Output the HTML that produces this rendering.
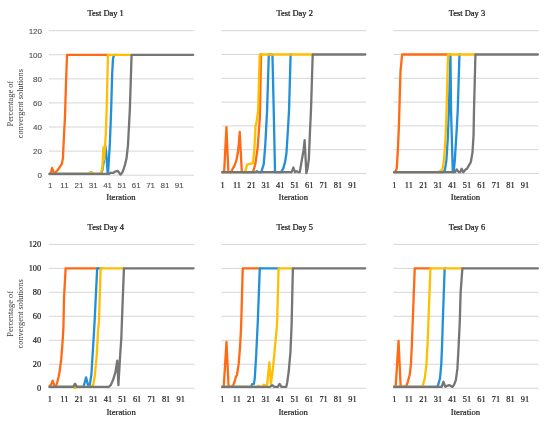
<!DOCTYPE html>
<html><head><meta charset="utf-8"><title>Percentage of convergent solutions</title>
<style>
html,body{margin:0;padding:0;background:#fff;overflow:hidden}
svg{display:block}
.tt{font-family:"Liberation Serif",serif;font-size:8.45px;fill:#111;stroke:#111;stroke-width:.22px}
.tks{font-family:"Liberation Sans",sans-serif;font-size:8px;fill:#4d4d4d;stroke:#4d4d4d;stroke-width:.1px}
.tkr{font-family:"Liberation Serif",serif;font-size:8.4px;fill:#1c1c1c;stroke:#1c1c1c;stroke-width:.2px}
.ax{font-family:"Liberation Serif",serif;font-size:8.7px;fill:#1c1c1c;stroke:#1c1c1c;stroke-width:.2px}
.ay{font-family:"Liberation Serif",serif;font-size:8.35px;fill:#333}
</style></head><body>
<svg width="550" height="422" viewBox="0 0 550 422">
<rect width="550" height="422" fill="#fff"/>
<g class="panel">
<line x1="48.9" x2="194.0" y1="175.20" y2="175.20" stroke="#D6D6D6" stroke-width="1"/>
<text x="42" y="178.10" text-anchor="end" class="tks">0</text>
<line x1="48.9" x2="194.0" y1="151.12" y2="151.12" stroke="#D6D6D6" stroke-width="1"/>
<text x="42" y="154.02" text-anchor="end" class="tks">20</text>
<line x1="48.9" x2="194.0" y1="127.03" y2="127.03" stroke="#D6D6D6" stroke-width="1"/>
<text x="42" y="129.93" text-anchor="end" class="tks">40</text>
<line x1="48.9" x2="194.0" y1="102.95" y2="102.95" stroke="#D6D6D6" stroke-width="1"/>
<text x="42" y="105.85" text-anchor="end" class="tks">60</text>
<line x1="48.9" x2="194.0" y1="78.87" y2="78.87" stroke="#D6D6D6" stroke-width="1"/>
<text x="42" y="81.77" text-anchor="end" class="tks">80</text>
<line x1="48.9" x2="194.0" y1="54.78" y2="54.78" stroke="#D6D6D6" stroke-width="1"/>
<text x="42" y="57.68" text-anchor="end" class="tks">100</text>
<line x1="48.9" x2="194.0" y1="30.70" y2="30.70" stroke="#D6D6D6" stroke-width="1"/>
<text x="42" y="33.60" text-anchor="end" class="tks">120</text>
<text x="105.6" y="16.3" text-anchor="middle" class="tt">Test Day 1</text>
<text x="50.2" y="188.3" text-anchor="middle" class="tks">1</text>
<text x="64.5" y="188.3" text-anchor="middle" class="tks">11</text>
<text x="78.9" y="188.3" text-anchor="middle" class="tks">21</text>
<text x="93.2" y="188.3" text-anchor="middle" class="tks">31</text>
<text x="107.6" y="188.3" text-anchor="middle" class="tks">41</text>
<text x="121.9" y="188.3" text-anchor="middle" class="tks">51</text>
<text x="136.2" y="188.3" text-anchor="middle" class="tks">61</text>
<text x="150.6" y="188.3" text-anchor="middle" class="tks">71</text>
<text x="164.9" y="188.3" text-anchor="middle" class="tks">81</text>
<text x="179.3" y="188.3" text-anchor="middle" class="tks">91</text>
<text x="121.0" y="200.2" text-anchor="middle" class="ax">Iteration</text>
<text transform="translate(12.6,103.7) rotate(-90)" text-anchor="middle" class="ay">Percentage of</text>
<text transform="translate(22.8,103.7) rotate(-90)" text-anchor="middle" class="ay">convergent solutions</text>
<polyline points="49.63,173.88 51.08,172.19 52.09,167.97 53.40,171.59 54.56,173.15 55.72,172.19 57.46,170.26 59.71,167.25 61.92,163.64 62.97,157.74 63.41,147.50 64.14,132.69 65.01,116.20 66.02,82.48 67.04,54.78 108.83,54.78" fill="none" stroke="#FF6A14" stroke-width="2.3" stroke-linejoin="round" stroke-linecap="round"/>
<polyline points="49.63,173.88 89.53,173.88 90.98,172.19 92.43,173.88 100.85,173.88 102.44,169.78 104.04,159.55 105.13,145.10 106.21,152.32 107.67,173.39 108.03,173.39 109.84,143.89 111.15,110.17 112.16,74.05 113.03,58.40 114.19,54.78 115.07,54.78" fill="none" stroke="#2190D8" stroke-width="2.3" stroke-linejoin="round" stroke-linecap="round"/>
<polyline points="49.63,173.88 89.53,173.88 91.70,172.19 93.88,173.88 99.83,173.88 101.14,172.19 102.44,167.97 103.31,147.50 104.04,159.55 105.05,146.30 105.78,134.26 106.65,108.97 107.96,54.78 132.48,54.78" fill="none" stroke="#FFBF00" stroke-width="2.3" stroke-linejoin="round" stroke-linecap="round"/>
<polyline points="49.63,173.88 109.12,173.88 110.57,172.79 113.47,172.79 114.92,171.59 117.82,170.99 120.43,174.60 122.18,172.79 123.63,169.18 125.08,164.36 126.53,158.34 127.98,145.10 129.87,108.97 131.61,54.78 193.27,54.78" fill="none" stroke="#757575" stroke-width="2.3" stroke-linejoin="round" stroke-linecap="round"/>
</g>
<g class="panel">
<line x1="221.6" x2="366.0" y1="173.50" y2="173.50" stroke="#D6D6D6" stroke-width="1"/>
<line x1="221.6" x2="366.0" y1="149.70" y2="149.70" stroke="#D6D6D6" stroke-width="1"/>
<line x1="221.6" x2="366.0" y1="125.90" y2="125.90" stroke="#D6D6D6" stroke-width="1"/>
<line x1="221.6" x2="366.0" y1="102.10" y2="102.10" stroke="#D6D6D6" stroke-width="1"/>
<line x1="221.6" x2="366.0" y1="78.30" y2="78.30" stroke="#D6D6D6" stroke-width="1"/>
<line x1="221.6" x2="366.0" y1="54.50" y2="54.50" stroke="#D6D6D6" stroke-width="1"/>
<line x1="221.6" x2="366.0" y1="30.70" y2="30.70" stroke="#D6D6D6" stroke-width="1"/>
<text x="294.7" y="16.3" text-anchor="middle" class="tt">Test Day 2</text>
<text x="222.5" y="187.6" text-anchor="middle" class="tkr">1</text>
<text x="237.0" y="187.6" text-anchor="middle" class="tkr">11</text>
<text x="251.4" y="187.6" text-anchor="middle" class="tkr">21</text>
<text x="265.8" y="187.6" text-anchor="middle" class="tkr">31</text>
<text x="280.3" y="187.6" text-anchor="middle" class="tkr">41</text>
<text x="294.7" y="187.6" text-anchor="middle" class="tkr">51</text>
<text x="309.2" y="187.6" text-anchor="middle" class="tkr">61</text>
<text x="323.6" y="187.6" text-anchor="middle" class="tkr">71</text>
<text x="338.0" y="187.6" text-anchor="middle" class="tkr">81</text>
<text x="352.5" y="187.6" text-anchor="middle" class="tkr">91</text>
<text x="293.3" y="200.1" text-anchor="middle" class="ax">Iteration</text>
<polyline points="222.32,172.19 224.20,171.12 226.44,127.09 228.39,172.19 230.99,172.19 232.72,168.74 234.16,166.48 236.33,160.65 237.77,153.27 238.78,143.75 239.72,131.85 241.82,172.19 252.65,172.19 254.09,168.74 255.39,163.62 257.70,147.32 259.14,127.09 259.87,117.57 261.02,54.50 261.89,54.50" fill="none" stroke="#FF6A14" stroke-width="2.3" stroke-linejoin="round" stroke-linecap="round"/>
<polyline points="222.32,172.19 255.53,172.19 256.98,171.12 258.42,172.19 261.31,172.19 263.76,163.98 265.35,143.75 267.09,110.43 268.82,54.50 272.43,54.50 273.73,110.43 275.03,172.19 281.09,172.19 283.40,168.15 285.14,161.60 286.44,153.27 288.02,128.28 289.03,110.43 290.62,54.50 291.49,54.50" fill="none" stroke="#2190D8" stroke-width="2.3" stroke-linejoin="round" stroke-linecap="round"/>
<polyline points="222.32,172.19 243.98,172.19 245.43,171.12 247.16,164.57 252.93,163.03 254.38,149.70 255.53,125.90 256.54,122.33 258.13,110.43 259.72,54.50 313.58,54.50" fill="none" stroke="#FFBF00" stroke-width="2.3" stroke-linejoin="round" stroke-linecap="round"/>
<polyline points="222.32,172.19 291.63,172.19 293.37,167.55 294.96,172.19 296.69,171.12 298.13,172.19 299.72,172.19 302.18,158.03 303.62,149.70 304.63,140.18 306.36,173.14 307.52,168.74 308.82,159.22 310.12,128.28 310.98,110.43 312.72,54.50 365.28,54.50" fill="none" stroke="#757575" stroke-width="2.3" stroke-linejoin="round" stroke-linecap="round"/>
</g>
<g class="panel">
<line x1="393.4" x2="538.6" y1="173.50" y2="173.50" stroke="#D6D6D6" stroke-width="1"/>
<line x1="393.4" x2="538.6" y1="149.70" y2="149.70" stroke="#D6D6D6" stroke-width="1"/>
<line x1="393.4" x2="538.6" y1="125.90" y2="125.90" stroke="#D6D6D6" stroke-width="1"/>
<line x1="393.4" x2="538.6" y1="102.10" y2="102.10" stroke="#D6D6D6" stroke-width="1"/>
<line x1="393.4" x2="538.6" y1="78.30" y2="78.30" stroke="#D6D6D6" stroke-width="1"/>
<line x1="393.4" x2="538.6" y1="54.50" y2="54.50" stroke="#D6D6D6" stroke-width="1"/>
<line x1="393.4" x2="538.6" y1="30.70" y2="30.70" stroke="#D6D6D6" stroke-width="1"/>
<text x="466.9" y="16.3" text-anchor="middle" class="tt">Test Day 3</text>
<text x="394.3" y="187.6" text-anchor="middle" class="tkr">1</text>
<text x="408.8" y="187.6" text-anchor="middle" class="tkr">11</text>
<text x="423.4" y="187.6" text-anchor="middle" class="tkr">21</text>
<text x="437.9" y="187.6" text-anchor="middle" class="tkr">31</text>
<text x="452.4" y="187.6" text-anchor="middle" class="tkr">41</text>
<text x="466.9" y="187.6" text-anchor="middle" class="tkr">51</text>
<text x="481.4" y="187.6" text-anchor="middle" class="tkr">61</text>
<text x="496.0" y="187.6" text-anchor="middle" class="tkr">71</text>
<text x="510.5" y="187.6" text-anchor="middle" class="tkr">81</text>
<text x="525.0" y="187.6" text-anchor="middle" class="tkr">91</text>
<text x="465.5" y="200.1" text-anchor="middle" class="ax">Iteration</text>
<polyline points="394.13,172.19 395.58,171.12 396.74,168.74 397.76,152.08 398.92,125.90 399.93,90.20 400.51,71.16 402.11,54.50 448.87,54.50" fill="none" stroke="#FF6A14" stroke-width="2.3" stroke-linejoin="round" stroke-linecap="round"/>
<polyline points="394.13,172.19 443.49,172.19 444.95,169.93 446.40,160.41 447.85,137.80 448.87,110.43 450.46,54.50 451.04,110.43 452.79,172.19 453.66,172.19 454.82,160.41 456.85,127.09 457.72,110.43 459.47,54.50 460.34,54.50" fill="none" stroke="#2190D8" stroke-width="2.3" stroke-linejoin="round" stroke-linecap="round"/>
<polyline points="394.13,172.19 437.69,172.19 440.59,171.12 442.48,169.34 444.07,159.22 445.67,135.42 446.54,110.43 448.00,54.50 476.31,54.50" fill="none" stroke="#FFBF00" stroke-width="2.3" stroke-linejoin="round" stroke-linecap="round"/>
<polyline points="394.13,172.19 455.11,172.19 456.71,169.34 458.74,172.19 460.19,172.19 461.64,168.74 463.39,172.19 465.85,169.34 467.02,168.74 468.32,166.36 470.79,162.19 472.53,152.08 473.55,135.42 473.99,110.43 475.44,54.50 537.87,54.50" fill="none" stroke="#757575" stroke-width="2.3" stroke-linejoin="round" stroke-linecap="round"/>
</g>
<g class="panel">
<line x1="48.9" x2="194.3" y1="388.20" y2="388.20" stroke="#D6D6D6" stroke-width="1"/>
<text x="41.2" y="391.10" text-anchor="end" class="tkr">0</text>
<line x1="48.9" x2="194.3" y1="364.23" y2="364.23" stroke="#D6D6D6" stroke-width="1"/>
<text x="41.2" y="367.13" text-anchor="end" class="tkr">20</text>
<line x1="48.9" x2="194.3" y1="340.27" y2="340.27" stroke="#D6D6D6" stroke-width="1"/>
<text x="41.2" y="343.17" text-anchor="end" class="tkr">40</text>
<line x1="48.9" x2="194.3" y1="316.30" y2="316.30" stroke="#D6D6D6" stroke-width="1"/>
<text x="41.2" y="319.20" text-anchor="end" class="tkr">60</text>
<line x1="48.9" x2="194.3" y1="292.33" y2="292.33" stroke="#D6D6D6" stroke-width="1"/>
<text x="41.2" y="295.23" text-anchor="end" class="tkr">80</text>
<line x1="48.9" x2="194.3" y1="268.37" y2="268.37" stroke="#D6D6D6" stroke-width="1"/>
<text x="41.2" y="271.27" text-anchor="end" class="tkr">100</text>
<line x1="48.9" x2="194.3" y1="244.40" y2="244.40" stroke="#D6D6D6" stroke-width="1"/>
<text x="41.2" y="247.30" text-anchor="end" class="tkr">120</text>
<text x="105.8" y="230.3" text-anchor="middle" class="tt">Test Day 4</text>
<text x="49.8" y="402.1" text-anchor="middle" class="tkr">1</text>
<text x="64.4" y="402.1" text-anchor="middle" class="tkr">11</text>
<text x="78.9" y="402.1" text-anchor="middle" class="tkr">21</text>
<text x="93.4" y="402.1" text-anchor="middle" class="tkr">31</text>
<text x="108.0" y="402.1" text-anchor="middle" class="tkr">41</text>
<text x="122.5" y="402.1" text-anchor="middle" class="tkr">51</text>
<text x="137.1" y="402.1" text-anchor="middle" class="tkr">61</text>
<text x="151.6" y="402.1" text-anchor="middle" class="tkr">71</text>
<text x="166.1" y="402.1" text-anchor="middle" class="tkr">81</text>
<text x="180.7" y="402.1" text-anchor="middle" class="tkr">91</text>
<text x="121.1" y="414.5" text-anchor="middle" class="ax">Iteration</text>
<text transform="translate(12.6,313.9) rotate(-90)" text-anchor="middle" class="ay">Percentage of</text>
<text transform="translate(22.8,313.9) rotate(-90)" text-anchor="middle" class="ay">convergent solutions</text>
<polyline points="49.63,385.80 51.08,384.60 52.68,380.65 54.57,386.40 56.02,386.40 57.48,381.49 58.64,376.82 59.66,371.18 61.19,359.44 62.35,345.06 63.44,327.08 64.02,298.32 65.62,268.37 98.05,268.37" fill="none" stroke="#FF6A14" stroke-width="2.3" stroke-linejoin="round" stroke-linecap="round"/>
<polyline points="49.63,386.88 83.51,386.88 86.12,377.41 88.45,386.88 89.61,385.80 91.36,375.02 93.10,346.86 94.56,322.29 97.17,268.37 101.53,268.37" fill="none" stroke="#2190D8" stroke-width="2.3" stroke-linejoin="round" stroke-linecap="round"/>
<polyline points="49.63,386.88 73.62,386.88 75.07,388.20 76.53,386.88 90.34,386.88 93.25,384.60 94.70,376.82 96.74,355.25 98.05,330.68 98.92,322.29 100.66,268.37 124.80,268.37" fill="none" stroke="#FFBF00" stroke-width="2.3" stroke-linejoin="round" stroke-linecap="round"/>
<polyline points="49.63,386.88 73.33,386.88 75.07,383.65 76.96,386.88 108.80,386.88 110.69,385.20 113.02,380.05 115.49,371.78 117.24,360.64 118.40,385.20 120.15,355.25 121.31,338.47 121.89,322.29 123.93,268.37 193.57,268.37" fill="none" stroke="#757575" stroke-width="2.3" stroke-linejoin="round" stroke-linecap="round"/>
</g>
<g class="panel">
<line x1="221.5" x2="366.0" y1="388.20" y2="388.20" stroke="#D6D6D6" stroke-width="1"/>
<line x1="221.5" x2="366.0" y1="364.23" y2="364.23" stroke="#D6D6D6" stroke-width="1"/>
<line x1="221.5" x2="366.0" y1="340.27" y2="340.27" stroke="#D6D6D6" stroke-width="1"/>
<line x1="221.5" x2="366.0" y1="316.30" y2="316.30" stroke="#D6D6D6" stroke-width="1"/>
<line x1="221.5" x2="366.0" y1="292.33" y2="292.33" stroke="#D6D6D6" stroke-width="1"/>
<line x1="221.5" x2="366.0" y1="268.37" y2="268.37" stroke="#D6D6D6" stroke-width="1"/>
<line x1="221.5" x2="366.0" y1="244.40" y2="244.40" stroke="#D6D6D6" stroke-width="1"/>
<text x="294.7" y="230.3" text-anchor="middle" class="tt">Test Day 5</text>
<text x="222.4" y="402.1" text-anchor="middle" class="tkr">1</text>
<text x="236.9" y="402.1" text-anchor="middle" class="tkr">11</text>
<text x="251.3" y="402.1" text-anchor="middle" class="tkr">21</text>
<text x="265.8" y="402.1" text-anchor="middle" class="tkr">31</text>
<text x="280.2" y="402.1" text-anchor="middle" class="tkr">41</text>
<text x="294.7" y="402.1" text-anchor="middle" class="tkr">51</text>
<text x="309.1" y="402.1" text-anchor="middle" class="tkr">61</text>
<text x="323.6" y="402.1" text-anchor="middle" class="tkr">71</text>
<text x="338.0" y="402.1" text-anchor="middle" class="tkr">81</text>
<text x="352.5" y="402.1" text-anchor="middle" class="tkr">91</text>
<text x="293.2" y="414.5" text-anchor="middle" class="ax">Iteration</text>
<polyline points="222.22,386.88 223.81,385.80 226.49,341.82 228.58,386.88 232.05,386.88 233.49,384.60 234.65,381.49 235.81,376.82 236.96,375.02 238.70,363.63 240.00,347.46 241.15,325.89 242.74,268.37 260.66,268.37" fill="none" stroke="#FF6A14" stroke-width="2.3" stroke-linejoin="round" stroke-linecap="round"/>
<polyline points="222.22,386.88 251.12,386.88 252.13,384.25 253.87,383.89 254.74,378.61 256.18,355.25 257.34,330.68 257.77,322.29 259.79,268.37 279.44,268.37" fill="none" stroke="#2190D8" stroke-width="2.3" stroke-linejoin="round" stroke-linecap="round"/>
<polyline points="222.22,386.88 256.90,386.88 258.35,385.80 259.79,386.88 262.39,386.88 263.84,384.60 265.57,385.80 267.16,384.60 269.33,362.44 270.92,384.01 272.94,368.43 274.97,346.86 276.70,328.28 277.13,322.29 278.58,268.37 293.75,268.37" fill="none" stroke="#FFBF00" stroke-width="2.3" stroke-linejoin="round" stroke-linecap="round"/>
<polyline points="222.22,386.88 269.91,386.88 272.22,385.20 274.24,386.88 277.86,386.88 279.59,383.89 281.47,386.88 286.24,386.88 287.25,382.21 288.69,371.78 290.43,352.25 291.58,325.89 292.88,268.37 365.28,268.37" fill="none" stroke="#757575" stroke-width="2.3" stroke-linejoin="round" stroke-linecap="round"/>
</g>
<g class="panel">
<line x1="393.4" x2="538.6" y1="388.20" y2="388.20" stroke="#D6D6D6" stroke-width="1"/>
<line x1="393.4" x2="538.6" y1="364.23" y2="364.23" stroke="#D6D6D6" stroke-width="1"/>
<line x1="393.4" x2="538.6" y1="340.27" y2="340.27" stroke="#D6D6D6" stroke-width="1"/>
<line x1="393.4" x2="538.6" y1="316.30" y2="316.30" stroke="#D6D6D6" stroke-width="1"/>
<line x1="393.4" x2="538.6" y1="292.33" y2="292.33" stroke="#D6D6D6" stroke-width="1"/>
<line x1="393.4" x2="538.6" y1="268.37" y2="268.37" stroke="#D6D6D6" stroke-width="1"/>
<line x1="393.4" x2="538.6" y1="244.40" y2="244.40" stroke="#D6D6D6" stroke-width="1"/>
<text x="466.9" y="230.3" text-anchor="middle" class="tt">Test Day 6</text>
<text x="394.3" y="402.1" text-anchor="middle" class="tkr">1</text>
<text x="408.8" y="402.1" text-anchor="middle" class="tkr">11</text>
<text x="423.4" y="402.1" text-anchor="middle" class="tkr">21</text>
<text x="437.9" y="402.1" text-anchor="middle" class="tkr">31</text>
<text x="452.4" y="402.1" text-anchor="middle" class="tkr">41</text>
<text x="466.9" y="402.1" text-anchor="middle" class="tkr">51</text>
<text x="481.4" y="402.1" text-anchor="middle" class="tkr">61</text>
<text x="496.0" y="402.1" text-anchor="middle" class="tkr">71</text>
<text x="510.5" y="402.1" text-anchor="middle" class="tkr">81</text>
<text x="525.0" y="402.1" text-anchor="middle" class="tkr">91</text>
<text x="465.5" y="414.5" text-anchor="middle" class="ax">Iteration</text>
<polyline points="394.13,386.88 395.72,385.80 398.55,340.87 400.66,386.88 405.31,386.88 406.90,384.60 407.92,381.49 409.81,374.18 410.97,363.87 411.84,345.06 412.71,322.29 414.74,268.37 431.30,268.37" fill="none" stroke="#FF6A14" stroke-width="2.3" stroke-linejoin="round" stroke-linecap="round"/>
<polyline points="394.13,386.88 437.54,386.88 440.01,378.37 441.32,363.51 442.19,341.94 442.77,322.29 444.66,268.37 445.53,268.37" fill="none" stroke="#2190D8" stroke-width="2.3" stroke-linejoin="round" stroke-linecap="round"/>
<polyline points="394.13,386.88 422.44,386.88 424.76,378.37 426.51,363.51 427.67,341.94 428.39,322.29 430.43,268.37 463.24,268.37" fill="none" stroke="#FFBF00" stroke-width="2.3" stroke-linejoin="round" stroke-linecap="round"/>
<polyline points="394.13,386.88 441.75,386.88 443.35,381.73 445.38,386.88 447.12,385.80 449.30,385.08 452.50,386.88 454.09,384.60 455.84,380.05 457.43,368.43 458.59,346.86 459.76,322.29 460.63,292.33 462.37,268.37 537.87,268.37" fill="none" stroke="#757575" stroke-width="2.3" stroke-linejoin="round" stroke-linecap="round"/>
</g>
</svg>
</body></html>
